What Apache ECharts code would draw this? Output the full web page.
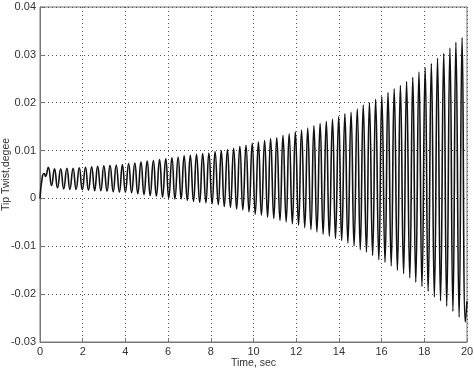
<!DOCTYPE html>
<html>
<head>
<meta charset="utf-8">
<script src="https://cdn.jsdelivr.net/npm/echarts@6/dist/echarts.min.js"></script>
<style>html,body{margin:0;padding:0;background:#fff}#c{width:474px;height:370px}</style>
</head>
<body>
<div id="c"></div>
<script>
// Start-up transient (time, value)
var startT = [0, 0.12, 0.20, 0.26];
var startV = [0, 0.0048, 0.0052, 0.0046];
// Peak times and values
var peakT = [0.39,0.68,0.97,1.26,1.55,1.84,2.13,2.42,2.70,2.99,3.28,3.57,3.86,4.15,4.44,4.73,5.02,5.31,5.60,5.89,
6.18,6.47,6.75,7.04,7.33,7.62,7.91,8.20,8.49,8.78,9.07,9.36,9.65,9.94,10.23,10.52,10.80,11.09,11.38,11.67,
11.96,12.25,12.54,12.83,13.12,13.41,13.70,13.99,14.28,14.57,14.86,15.14,15.43,15.72,16.01,16.30,16.59,16.88,17.17,17.46,
17.75,18.04,18.33,18.62,18.91,19.20,19.48,19.77];
var peakV = [0.0065,0.0062,0.0062,0.0063,0.0063,0.0064,0.0065,0.0066,0.0067,0.0068,0.0069,0.0070,0.0071,0.0073,0.0074,0.0076,0.0078,0.0079,0.0081,0.0083,
0.0085,0.0086,0.0089,0.0090,0.0092,0.0094,0.0095,0.0098,0.0100,0.0102,0.0105,0.0109,0.0111,0.0115,0.0118,0.0121,0.0125,0.0127,0.0132,0.0135,
0.0139,0.0143,0.0147,0.0152,0.0157,0.0161,0.0166,0.0171,0.0177,0.0180,0.0187,0.0195,0.0200,0.0207,0.0213,0.0221,0.0229,0.0236,0.0244,0.0253,
0.0264,0.0273,0.0282,0.0293,0.0303,0.0314,0.0326,0.0336];
// Trough times and values
var troughT = [0.54,0.82,1.11,1.40,1.69,1.98,2.27,2.56,2.85,3.14,3.43,3.72,4.00,4.29,4.58,4.87,5.16,5.45,5.74,6.03,
6.32,6.61,6.90,7.19,7.48,7.77,8.06,8.35,8.63,8.92,9.21,9.50,9.79,10.08,10.37,10.66,10.95,11.24,11.53,11.82,
12.11,12.40,12.69,12.97,13.26,13.55,13.84,14.13,14.42,14.71,15.00,15.29,15.58,15.87,16.16,16.45,16.74,17.03,17.32,17.60,
17.89,18.18,18.47,18.76,19.05,19.34,19.63,19.92];
var troughV = [0.0027,0.0022,0.0020,0.0019,0.0019,0.0018,0.0017,0.0016,0.0016,0.0015,0.0014,0.0013,0.0013,0.0012,0.0010,0.0008,0.0006,0.0005,0.0003,0.0001,
-0.0001,-0.0001,-0.0004,-0.0006,-0.0008,-0.0009,-0.0011,-0.0013,-0.0017,-0.0019,-0.0022,-0.0024,-0.0028,-0.0033,-0.0035,-0.0039,-0.0042,-0.0046,-0.0049,-0.0053,
-0.0056,-0.0061,-0.0065,-0.0070,-0.0075,-0.0079,-0.0084,-0.0088,-0.0093,-0.0099,-0.0107,-0.0112,-0.0119,-0.0128,-0.0133,-0.0141,-0.0150,-0.0157,-0.0166,-0.0175,
-0.0184,-0.0194,-0.0206,-0.0214,-0.0225,-0.0236,-0.0248,-0.0258];
// End point
var endT = [20];
var endV = [-0.0215];

var xTicks = [0,2,4,6,8,10,12,14,16,18,20];
var yTicks = [-0.03,-0.02,-0.01,0,0.01,0.02,0.03,0.04];

var data = [];
for (var i = 0; i < startT.length; i++) data.push([startT[i], startV[i]]);
for (var k = 0; k < peakT.length; k++) {
  data.push([peakT[k], peakV[k]]);
  data.push([troughT[k], troughV[k]]);
}
for (var j = 0; j < endT.length; j++) data.push([endT[j], endV[j]]);

var font = 'Liberation Sans, Arial, Helvetica, sans-serif';
var chart = echarts.init(document.getElementById('c'), null, {renderer: 'canvas'});
chart.setOption({
  animation: false,
  backgroundColor: '#fff',
  grid: {left: 40, right: 7, top: 7, bottom: 28, containLabel: false, outerBoundsMode: 'none',
    show: true, borderColor: '#777', borderWidth: 1, backgroundColor: '#fff'},
  xAxis: {
    type: 'value', min: xTicks[0], max: xTicks[xTicks.length-1], interval: 2,
    name: 'Time, sec', nameLocation: 'middle', nameGap: 16, nameMoveOverlap: false,
    nameTextStyle: {fontFamily: font, fontSize: 10.5, color: '#333'},
    axisLine: {show: true, onZero: false, lineStyle: {color: '#777'}},
    axisTick: {show: true, inside: true, length: 4, lineStyle: {color: '#777'}},
    axisLabel: {fontFamily: font, fontSize: 11, color: '#333', margin: 4},
    splitLine: {show: true, lineStyle: {color: '#555', type: [1, 3], width: 1}}
  },
  yAxis: {
    type: 'value', min: yTicks[0], max: yTicks[yTicks.length-1], interval: 0.01,
    name: 'Tip Twist,degee', nameLocation: 'middle', nameGap: 28, nameMoveOverlap: false,
    nameTextStyle: {fontFamily: font, fontSize: 10.5, color: '#333'},
    axisLine: {show: true, onZero: false, lineStyle: {color: '#777'}},
    axisTick: {show: true, inside: true, length: 4, lineStyle: {color: '#777'}},
    axisLabel: {fontFamily: font, fontSize: 11, color: '#333', margin: 4,
      formatter: function (v) { return String(+v.toFixed(2)); }},
    splitLine: {show: true, lineStyle: {color: '#555', type: [1, 3], width: 1}}
  },
  series: [{
    type: 'line', data: data, showSymbol: false, smooth: 0.5,
    lineStyle: {color: '#111', width: 1.6},
    clip: true
  }]
});
</script>
</body>
</html>
